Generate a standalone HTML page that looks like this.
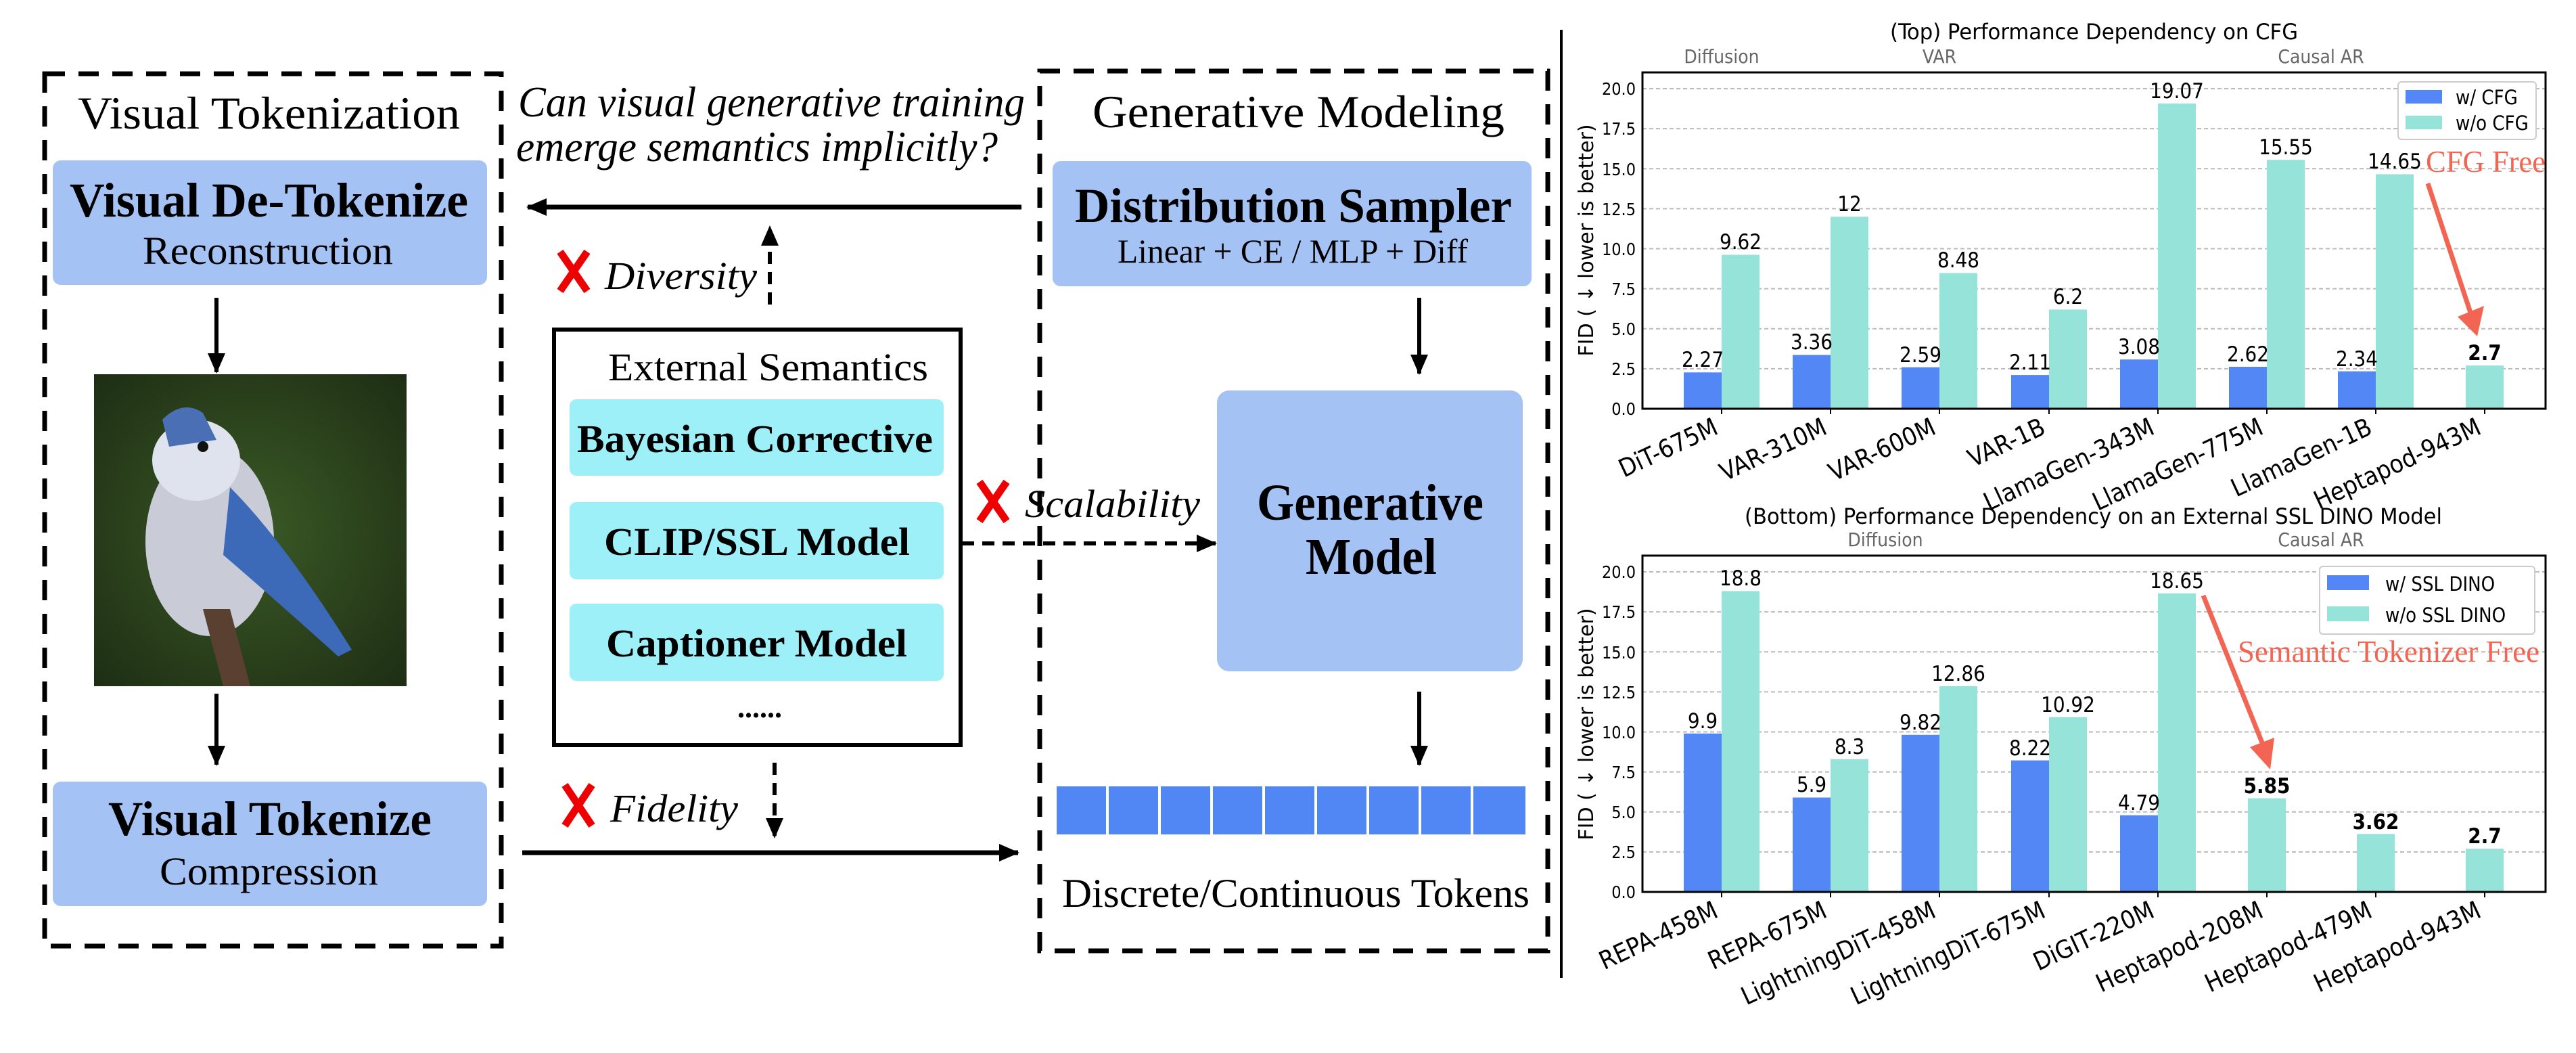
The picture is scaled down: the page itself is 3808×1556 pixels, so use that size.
<!DOCTYPE html>
<html><head><meta charset="utf-8"><style>
html,body{margin:0;padding:0;background:#fff;width:3808px;height:1556px;overflow:hidden}
svg{display:block}
.ser{font-family:"Liberation Serif",serif}
.sans{font-family:"DejaVu Sans Condensed","DejaVu Sans","Liberation Sans",sans-serif;font-stretch:condensed}
</style></head><body>
<svg width="3808" height="1556" viewBox="0 0 3808 1556" xmlns="http://www.w3.org/2000/svg">
<defs>
<marker id="ah" markerWidth="30" markerHeight="26" refX="28" refY="13" orient="auto" markerUnits="userSpaceOnUse" viewBox="0 0 30 26"><path d="M0,0 L30,13 L0,26 z" fill="#000"/></marker>
<radialGradient id="bg" cx="50%" cy="50%" r="70%"><stop offset="0" stop-color="#3b5a26"/><stop offset="1" stop-color="#1e2e14"/></radialGradient>
</defs>
<g class="ser">
<rect x="66" y="109" width="675" height="1289" fill="none" stroke="#000" stroke-width="7" stroke-dasharray="30 20"/>
<rect x="1537" y="105" width="751" height="1300" fill="none" stroke="#000" stroke-width="7" stroke-dasharray="30 20"/>
<text x="115" y="190" font-size="68" textLength="565" lengthAdjust="spacingAndGlyphs">Visual Tokenization</text>
<text x="766" y="172" font-size="64" font-style="italic" textLength="749" lengthAdjust="spacingAndGlyphs">Can visual generative training</text>
<text x="763" y="238" font-size="64" font-style="italic" textLength="712" lengthAdjust="spacingAndGlyphs">emerge semantics implicitly?</text>
<text x="1615" y="188" font-size="68" textLength="609" lengthAdjust="spacingAndGlyphs">Generative Modeling</text>

<rect x="78" y="237" width="642" height="184" rx="12" fill="#a4c2f4"/>
<text x="103" y="320" font-size="72" font-weight="bold" textLength="589" lengthAdjust="spacingAndGlyphs">Visual De-Tokenize</text>
<text x="211" y="390" font-size="58" textLength="370" lengthAdjust="spacingAndGlyphs">Reconstruction</text>
<rect x="78" y="1155" width="642" height="184" rx="12" fill="#a4c2f4"/>
<text x="160" y="1234" font-size="72" font-weight="bold" textLength="478" lengthAdjust="spacingAndGlyphs">Visual Tokenize</text>
<text x="236" y="1307" font-size="58" textLength="323" lengthAdjust="spacingAndGlyphs">Compression</text>

<line x1="320" y1="440" x2="320" y2="550" stroke="#000" stroke-width="6" marker-end="url(#ah)"/>
<line x1="320" y1="1025" x2="320" y2="1130" stroke="#000" stroke-width="6" marker-end="url(#ah)"/>
<rect x="139" y="553" width="462" height="461" fill="url(#bg)"/>
<ellipse cx="310" cy="800" rx="95" ry="140" fill="#c9cbd6"/>
<ellipse cx="290" cy="680" rx="65" ry="60" fill="#dfe3ee"/>
<path d="M240 620 Q270 590 300 610 L320 650 L250 660 z" fill="#4a6fb5"/>
<path d="M340 720 Q420 800 520 960 L500 970 Q400 880 330 820 z" fill="#3c69b8"/>
<path d="M300 900 L330 1014 L370 1014 L340 900 z" fill="#5a4030"/>
<circle cx="300" cy="660" r="8" fill="#111"/>

<rect x="1556" y="238" width="708" height="185" rx="12" fill="#a4c2f4"/>
<text x="1589" y="328" font-size="72" font-weight="bold" textLength="646" lengthAdjust="spacingAndGlyphs">Distribution Sampler</text>
<text x="1652" y="388" font-size="50" textLength="518" lengthAdjust="spacingAndGlyphs">Linear + CE / MLP + Diff</text>
<line x1="2098" y1="440" x2="2098" y2="552" stroke="#000" stroke-width="6" marker-end="url(#ah)"/>
<rect x="1799" y="577" width="452" height="415" rx="18" fill="#a4c2f4"/>
<text x="1858" y="768" font-size="76" font-weight="bold" textLength="335" lengthAdjust="spacingAndGlyphs">Generative</text>
<text x="1930" y="848" font-size="76" font-weight="bold" textLength="194" lengthAdjust="spacingAndGlyphs">Model</text>
<line x1="2098" y1="1022" x2="2098" y2="1130" stroke="#000" stroke-width="6" marker-end="url(#ah)"/>
<g fill="#5087f5">
<rect x="1562" y="1162" width="73" height="71"/><rect x="1639" y="1162" width="73" height="71"/><rect x="1716" y="1162" width="73" height="71"/><rect x="1793" y="1162" width="73" height="71"/><rect x="1870" y="1162" width="73" height="71"/><rect x="1947" y="1162" width="73" height="71"/><rect x="2024" y="1162" width="73" height="71"/><rect x="2101" y="1162" width="73" height="71"/><rect x="2178" y="1162" width="77" height="71"/>
</g>
<text x="1570" y="1340" font-size="60" textLength="691" lengthAdjust="spacingAndGlyphs">Discrete/Continuous Tokens</text>

<line x1="1510" y1="306" x2="780" y2="306" stroke="#000" stroke-width="7" marker-end="url(#ah)"/>
<line x1="772" y1="1260" x2="1505" y2="1260" stroke="#000" stroke-width="7" marker-end="url(#ah)"/>
<line x1="1138" y1="450" x2="1138" y2="335" stroke="#000" stroke-width="6" stroke-dasharray="18 12" marker-end="url(#ah)"/>
<line x1="1145" y1="1127" x2="1145" y2="1237" stroke="#000" stroke-width="6" stroke-dasharray="18 12" marker-end="url(#ah)"/>
<line x1="1422" y1="803" x2="1797" y2="803" stroke="#000" stroke-width="6" stroke-dasharray="18 12" marker-end="url(#ah)"/>

<rect x="819" y="487" width="601" height="614" fill="#fff" stroke="#000" stroke-width="6"/>
<text x="899" y="562" font-size="58" textLength="473" lengthAdjust="spacingAndGlyphs">External Semantics</text>
<rect x="842" y="590" width="553" height="113" rx="10" fill="#9ef0f8"/>
<rect x="842" y="742" width="553" height="114" rx="10" fill="#9ef0f8"/>
<rect x="842" y="892" width="553" height="114" rx="10" fill="#9ef0f8"/>
<text x="853" y="668" font-size="58" font-weight="bold" textLength="526" lengthAdjust="spacingAndGlyphs">Bayesian Corrective</text>
<text x="893" y="820" font-size="58" font-weight="bold" textLength="452" lengthAdjust="spacingAndGlyphs">CLIP/SSL Model</text>
<text x="896" y="970" font-size="58" font-weight="bold" textLength="445" lengthAdjust="spacingAndGlyphs">Captioner Model</text>
<text x="1123" y="1060" font-size="44" font-weight="bold" text-anchor="middle">......</text>

<g stroke="#e00" stroke-width="11">
<path d="M828 372 L868 430 M868 372 L828 430"/>
<path d="M1448 712 L1488 770 M1488 712 L1448 770"/>
<path d="M835 1160 L875 1220 M875 1160 L835 1220"/>
</g>
<text x="894" y="427" font-size="58" font-style="italic" textLength="225" lengthAdjust="spacingAndGlyphs">Diversity</text>
<text x="1515" y="764" font-size="58" font-style="italic" textLength="259" lengthAdjust="spacingAndGlyphs">Scalability</text>
<text x="902" y="1214" font-size="58" font-style="italic" textLength="189" lengthAdjust="spacingAndGlyphs">Fidelity</text>
</g>

<line x1="2308" y1="44" x2="2308" y2="1445" stroke="#000" stroke-width="4"/>

<!-- TOP CHART -->
<g class="sans">
<text x="2794" y="58" font-size="32" textLength="603" lengthAdjust="spacingAndGlyphs">(Top) Performance Dependency on CFG</text>
<g font-size="28" fill="#666" text-anchor="middle"><text x="2545" y="93">Diffusion</text><text x="2867" y="93">VAR</text><text x="3431" y="93">Causal AR</text></g>
<g stroke="#bbb" stroke-width="2" stroke-dasharray="6 4">
<line x1="2428" x2="3763" y1="544.9" y2="544.9"/><line x1="2428" x2="3763" y1="485.8" y2="485.8"/><line x1="2428" x2="3763" y1="426.6" y2="426.6"/><line x1="2428" x2="3763" y1="367.5" y2="367.5"/><line x1="2428" x2="3763" y1="308.4" y2="308.4"/><line x1="2428" x2="3763" y1="249.3" y2="249.3"/><line x1="2428" x2="3763" y1="190.1" y2="190.1"/><line x1="2428" x2="3763" y1="131" y2="131"/>
</g>
<g fill="#5287f5">
<rect x="2489" y="550.3" width="56" height="53.7"/><rect x="2650" y="524.5" width="56" height="79.5"/><rect x="2811" y="542.7" width="56" height="61.3"/><rect x="2973" y="554.1" width="56" height="49.9"/><rect x="3134" y="531.2" width="56" height="72.8"/><rect x="3295" y="542" width="56" height="62"/><rect x="3456" y="548.7" width="56" height="55.3"/>
</g>
<g fill="#96e3da">
<rect x="2545" y="376.5" width="56" height="227.5"/><rect x="2706" y="320.2" width="56" height="283.8"/><rect x="2867" y="403.4" width="56" height="200.6"/><rect x="3029" y="457.4" width="56" height="146.6"/><rect x="3190" y="153" width="56" height="451"/><rect x="3351" y="236.2" width="56" height="367.8"/><rect x="3512" y="257.5" width="56" height="346.5"/><rect x="3645" y="540.1" width="56" height="63.9"/>
</g>
<rect x="2428" y="107" width="1335" height="497" fill="none" stroke="#000" stroke-width="3"/>
<g stroke="#000" stroke-width="2"><line x1="2545" x2="2545" y1="604" y2="612"/><line x1="2706" x2="2706" y1="604" y2="612"/><line x1="2867" x2="2867" y1="604" y2="612"/><line x1="3029" x2="3029" y1="604" y2="612"/><line x1="3190" x2="3190" y1="604" y2="612"/><line x1="3351" x2="3351" y1="604" y2="612"/><line x1="3512" x2="3512" y1="604" y2="612"/><line x1="3673" x2="3673" y1="604" y2="612"/></g>
<g font-size="31" text-anchor="middle">
<text x="2517" y="542">2.27</text><text x="2678" y="516">3.36</text><text x="2839" y="535">2.59</text><text x="3001" y="546">2.11</text><text x="3162" y="523">3.08</text><text x="3323" y="534">2.62</text><text x="3484" y="541">2.34</text>
<text x="2573" y="368">9.62</text><text x="2734" y="312">12</text><text x="2895" y="395">8.48</text><text x="3057" y="449">6.2</text><text x="3218" y="145">19.07</text><text x="3379" y="228">15.55</text><text x="3540" y="249">14.65</text><text x="3673" y="532" font-weight="bold">2.7</text>
</g>
<g font-size="25" text-anchor="end">
<text x="2418" y="613">0.0</text><text x="2418" y="554">2.5</text><text x="2418" y="495">5.0</text><text x="2418" y="436">7.5</text><text x="2418" y="377">10.0</text><text x="2418" y="318">12.5</text><text x="2418" y="259">15.0</text><text x="2418" y="199">17.5</text><text x="2418" y="140">20.0</text>
</g>
<g font-size="37" text-anchor="end">
<text transform="translate(2542,640) rotate(-25)">DiT-675M</text><text transform="translate(2703,640) rotate(-25)">VAR-310M</text><text transform="translate(2864,640) rotate(-25)">VAR-600M</text><text transform="translate(3026,640) rotate(-25)">VAR-1B</text><text transform="translate(3187,640) rotate(-25)">LlamaGen-343M</text><text transform="translate(3348,640) rotate(-25)">LlamaGen-775M</text><text transform="translate(3509,640) rotate(-25)">LlamaGen-1B</text><text transform="translate(3670,640) rotate(-25)">Heptapod-943M</text>
</g>
<text transform="translate(2355,355) rotate(-90)" font-size="30" text-anchor="middle" style="font-family:'DejaVu Sans',sans-serif;font-stretch:normal">FID ( ↓ lower is better)</text>
<rect x="3545" y="121" width="204" height="85" rx="5" fill="#fff" stroke="#ccc" stroke-width="2"/>
<rect x="3556" y="133" width="54" height="20" fill="#5287f5"/><rect x="3556" y="171" width="54" height="20" fill="#96e3da"/>
<text x="3630" y="154" font-size="29">w/ CFG</text><text x="3630" y="192" font-size="29">w/o CFG</text>
<text x="3586" y="254" font-size="46" fill="#f26552" textLength="177" lengthAdjust="spacingAndGlyphs" style="font-family:'Liberation Serif',serif;font-stretch:normal">CFG Free</text>
<line x1="3589" y1="271" x2="3652" y2="462" stroke="#f26552" stroke-width="7"/>
<path d="M3633 468 L3662 497 L3672 452 z" fill="#f26552"/>

<!-- BOTTOM CHART -->
<text x="2579" y="774" font-size="32" textLength="1031" lengthAdjust="spacingAndGlyphs">(Bottom) Performance Dependency on an External SSL DINO Model</text>
<g font-size="28" fill="#666" text-anchor="middle"><text x="2787" y="807">Diffusion</text><text x="3431" y="807">Causal AR</text></g>
<g stroke="#bbb" stroke-width="2" stroke-dasharray="6 4">
<line x1="2428" x2="3763" y1="1258.9" y2="1258.9"/><line x1="2428" x2="3763" y1="1199.8" y2="1199.8"/><line x1="2428" x2="3763" y1="1140.6" y2="1140.6"/><line x1="2428" x2="3763" y1="1081.5" y2="1081.5"/><line x1="2428" x2="3763" y1="1022.4" y2="1022.4"/><line x1="2428" x2="3763" y1="963.3" y2="963.3"/><line x1="2428" x2="3763" y1="904.1" y2="904.1"/><line x1="2428" x2="3763" y1="845" y2="845"/>
</g>
<g fill="#5287f5">
<rect x="2489" y="1083.9" width="56" height="234.1"/><rect x="2650" y="1178.5" width="56" height="139.5"/><rect x="2811" y="1085.8" width="56" height="232.2"/><rect x="2973" y="1123.6" width="56" height="194.4"/><rect x="3134" y="1204.7" width="56" height="113.3"/>
</g>
<g fill="#96e3da">
<rect x="2545" y="873.4" width="56" height="444.6"/><rect x="2706" y="1121.7" width="56" height="196.3"/><rect x="2867" y="1013.9" width="56" height="304.1"/><rect x="3029" y="1059.7" width="56" height="258.3"/><rect x="3190" y="876.9" width="56" height="441.1"/><rect x="3323" y="1179.6" width="56" height="138.4"/><rect x="3484" y="1232.4" width="56" height="85.6"/><rect x="3645" y="1254.1" width="56" height="63.9"/>
</g>
<rect x="2428" y="821" width="1335" height="497" fill="none" stroke="#000" stroke-width="3"/>
<g stroke="#000" stroke-width="2"><line x1="2545" x2="2545" y1="1318" y2="1326"/><line x1="2706" x2="2706" y1="1318" y2="1326"/><line x1="2867" x2="2867" y1="1318" y2="1326"/><line x1="3029" x2="3029" y1="1318" y2="1326"/><line x1="3190" x2="3190" y1="1318" y2="1326"/><line x1="3351" x2="3351" y1="1318" y2="1326"/><line x1="3512" x2="3512" y1="1318" y2="1326"/><line x1="3673" x2="3673" y1="1318" y2="1326"/></g>
<g font-size="31" text-anchor="middle">
<text x="2517" y="1076">9.9</text><text x="2678" y="1170">5.9</text><text x="2839" y="1078">9.82</text><text x="3001" y="1116">8.22</text><text x="3162" y="1197">4.79</text>
<text x="2573" y="865">18.8</text><text x="2734" y="1114">8.3</text><text x="2895" y="1006">12.86</text><text x="3057" y="1052">10.92</text><text x="3218" y="869">18.65</text>
<g font-weight="bold"><text x="3351" y="1172">5.85</text><text x="3512" y="1225">3.62</text><text x="3673" y="1246">2.7</text></g>
</g>
<g font-size="25" text-anchor="end">
<text x="2418" y="1327">0.0</text><text x="2418" y="1268">2.5</text><text x="2418" y="1209">5.0</text><text x="2418" y="1150">7.5</text><text x="2418" y="1091">10.0</text><text x="2418" y="1032">12.5</text><text x="2418" y="973">15.0</text><text x="2418" y="913">17.5</text><text x="2418" y="854">20.0</text>
</g>
<g font-size="37" text-anchor="end">
<text transform="translate(2542,1354) rotate(-25)">REPA-458M</text><text transform="translate(2703,1354) rotate(-25)">REPA-675M</text><text transform="translate(2864,1354) rotate(-25)">LightningDiT-458M</text><text transform="translate(3026,1354) rotate(-25)">LightningDiT-675M</text><text transform="translate(3187,1354) rotate(-25)">DiGIT-220M</text><text transform="translate(3348,1354) rotate(-25)">Heptapod-208M</text><text transform="translate(3509,1354) rotate(-25)">Heptapod-479M</text><text transform="translate(3670,1354) rotate(-25)">Heptapod-943M</text>
</g>
<text transform="translate(2355,1070) rotate(-90)" font-size="30" text-anchor="middle" style="font-family:'DejaVu Sans',sans-serif;font-stretch:normal">FID ( ↓ lower is better)</text>
<rect x="3429" y="837" width="318" height="100" rx="5" fill="#fff" stroke="#ccc" stroke-width="2"/>
<rect x="3440" y="850" width="62" height="22" fill="#5287f5"/><rect x="3440" y="896" width="62" height="22" fill="#96e3da"/>
<text x="3526" y="873" font-size="29">w/ SSL DINO</text><text x="3526" y="919" font-size="29">w/o SSL DINO</text>
<text x="3308" y="978" font-size="46" fill="#f26552" textLength="446" lengthAdjust="spacingAndGlyphs" style="font-family:'Liberation Serif',serif;font-stretch:normal">Semantic Tokenizer Free</text>
<line x1="3257" y1="880" x2="3345" y2="1100" stroke="#f26552" stroke-width="7"/>
<path d="M3326 1104 L3356 1137 L3362 1090 z" fill="#f26552"/>
</g>
</svg>
</body></html>
